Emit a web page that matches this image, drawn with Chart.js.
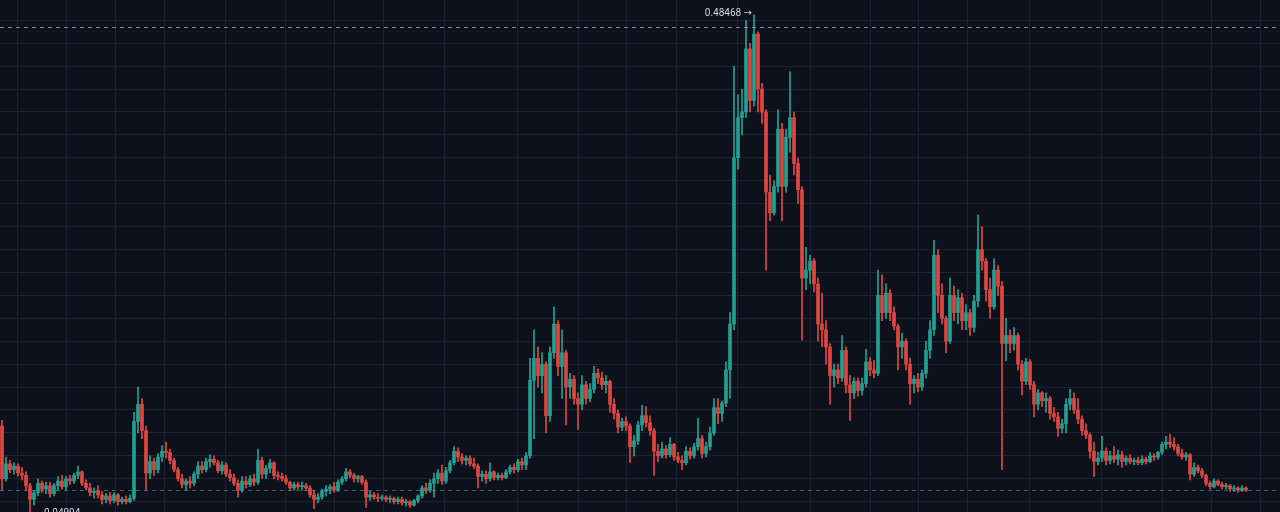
<!DOCTYPE html>
<html>
<head>
<meta charset="utf-8">
<script src="https://cdn.jsdelivr.net/npm/chart.js@4.4.1/dist/chart.umd.min.js"></script>
<style>
    html, body { margin: 0; padding: 0; background: #0d111c; overflow: hidden; }
    #wrap { width: 1280px; height: 512px; }
</style>
</head>
<body>
<div id="wrap"><canvas id="chart" width="1280" height="512"></canvas></div>
<script>
// OHLC, one candle per slot
const opens = [
    0.126,0.080,0.093,0.088,0.091,0.085,0.083,0.074,0.062,0.068,
    0.076,0.071,0.074,0.067,0.074,0.078,0.073,0.080,0.078,0.083,
    0.086,0.076,0.072,0.068,0.069,0.066,0.062,0.065,0.061,0.066,
    0.060,0.062,0.060,0.063,0.130,0.145,0.122,0.085,0.095,0.088,
    0.099,0.104,0.103,0.096,0.088,0.080,0.075,0.078,0.076,0.084,
    0.091,0.088,0.095,0.097,0.094,0.087,0.092,0.084,0.081,0.076,
    0.070,0.078,0.075,0.080,0.077,0.096,0.084,0.089,0.094,0.083,
    0.082,0.080,0.077,0.072,0.075,0.073,0.074,0.072,0.066,0.062,
    0.064,0.069,0.071,0.073,0.070,0.077,0.080,0.086,0.083,0.080,
    0.082,0.077,0.064,0.066,0.064,0.063,0.064,0.062,0.063,0.060,
    0.062,0.059,0.060,0.057,0.061,0.065,0.072,0.070,0.076,0.080,
    0.085,0.078,0.087,0.094,0.104,0.099,0.096,0.098,0.093,0.091,
    0.082,0.084,0.080,0.086,0.081,0.083,0.081,0.086,0.090,0.088,
    0.095,0.092,0.100,0.166,0.185,0.170,0.180,0.135,0.190,0.215,
    0.178,0.190,0.160,0.167,0.150,0.145,0.162,0.150,0.158,0.172,
    0.168,0.162,0.165,0.145,0.137,0.125,0.130,0.126,0.108,0.113,
    0.127,0.135,0.129,0.122,0.104,0.100,0.106,0.101,0.110,0.099,
    0.096,0.094,0.104,0.100,0.108,0.115,0.102,0.108,0.120,0.142,
    0.137,0.146,0.175,0.215,0.360,0.395,0.400,0.455,0.410,0.468,
    0.420,0.400,0.330,0.312,0.335,0.385,0.335,0.378,0.395,0.355,
    0.332,0.255,0.262,0.270,0.250,0.215,0.210,0.195,0.170,0.175,
    0.168,0.192,0.162,0.155,0.165,0.157,0.163,0.182,0.175,0.172,
    0.240,0.225,0.242,0.225,0.213,0.195,0.200,0.180,0.163,0.167,
    0.160,0.172,0.192,0.210,0.275,0.240,0.220,0.200,0.240,0.225,
    0.238,0.218,0.225,0.212,0.235,0.280,0.270,0.245,0.230,0.262,
    0.248,0.198,0.205,0.198,0.205,0.180,0.165,0.182,0.162,0.145,
    0.155,0.148,0.150,0.137,0.134,0.124,0.128,0.145,0.150,0.140,
    0.132,0.122,0.118,0.104,0.095,0.098,0.104,0.096,0.100,0.097,
    0.101,0.095,0.098,0.095,0.096,0.094,0.097,0.095,0.100,0.099,
    0.103,0.110,0.112,0.110,0.108,0.102,0.099,0.101,0.084,0.090,
    0.087,0.083,0.076,0.073,0.078,0.075,0.073,0.074,0.071,0.072,0.070,0.072
]
const highs = [
    0.131,0.099,0.096,0.094,0.093,0.090,0.086,0.076,0.070,0.080,
    0.078,0.077,0.077,0.076,0.082,0.083,0.082,0.083,0.085,0.091,
    0.087,0.079,0.076,0.072,0.074,0.069,0.067,0.068,0.068,0.067,
    0.064,0.065,0.066,0.138,0.160,0.150,0.126,0.100,0.098,0.102,
    0.109,0.112,0.106,0.098,0.090,0.084,0.080,0.082,0.086,0.095,
    0.095,0.098,0.101,0.100,0.096,0.095,0.094,0.088,0.084,0.079,
    0.082,0.082,0.083,0.084,0.106,0.099,0.092,0.097,0.095,0.086,
    0.085,0.083,0.078,0.077,0.077,0.077,0.076,0.074,0.070,0.067,
    0.071,0.074,0.075,0.077,0.079,0.082,0.089,0.088,0.085,0.083,
    0.083,0.079,0.069,0.068,0.067,0.066,0.065,0.065,0.064,0.064,
    0.064,0.062,0.061,0.062,0.066,0.074,0.076,0.079,0.085,0.088,
    0.092,0.090,0.096,0.108,0.107,0.102,0.100,0.100,0.098,0.093,
    0.087,0.087,0.094,0.087,0.085,0.085,0.088,0.092,0.093,0.097,
    0.098,0.103,0.185,0.210,0.195,0.190,0.182,0.195,0.230,0.218,
    0.210,0.192,0.172,0.170,0.155,0.170,0.165,0.163,0.178,0.176,
    0.173,0.170,0.166,0.150,0.140,0.133,0.134,0.128,0.118,0.130,
    0.144,0.143,0.135,0.124,0.110,0.112,0.109,0.116,0.111,0.103,
    0.100,0.108,0.107,0.111,0.133,0.118,0.112,0.125,0.150,0.150,
    0.148,0.182,0.225,0.440,0.415,0.420,0.480,0.460,0.48468,0.470,
    0.425,0.402,0.345,0.340,0.402,0.390,0.385,0.435,0.400,0.360,
    0.335,0.282,0.275,0.272,0.255,0.242,0.218,0.198,0.180,0.180,
    0.205,0.195,0.170,0.168,0.168,0.168,0.193,0.186,0.183,0.262,
    0.258,0.250,0.245,0.230,0.215,0.207,0.202,0.185,0.170,0.172,
    0.175,0.200,0.218,0.288,0.280,0.250,0.222,0.255,0.248,0.245,
    0.242,0.232,0.228,0.240,0.310,0.300,0.272,0.255,0.272,0.266,
    0.252,0.220,0.210,0.212,0.207,0.183,0.185,0.184,0.165,0.158,
    0.156,0.155,0.152,0.142,0.138,0.132,0.150,0.158,0.155,0.150,
    0.135,0.128,0.120,0.112,0.103,0.117,0.107,0.104,0.108,0.105,
    0.104,0.100,0.101,0.098,0.099,0.100,0.099,0.103,0.102,0.104,
    0.112,0.117,0.119,0.116,0.110,0.106,0.103,0.102,0.094,0.092,
    0.089,0.084,0.078,0.080,0.079,0.077,0.076,0.075,0.074,0.073,0.074,0.073
]
const lows = [
    0.070,0.078,0.085,0.084,0.082,0.079,0.070,0.04994,0.057,0.065,
    0.068,0.067,0.064,0.065,0.070,0.071,0.070,0.075,0.076,0.080,
    0.074,0.070,0.065,0.063,0.063,0.058,0.059,0.058,0.059,0.057,
    0.058,0.058,0.059,0.061,0.120,0.115,0.070,0.080,0.083,0.085,
    0.095,0.098,0.093,0.086,0.078,0.072,0.070,0.072,0.074,0.080,
    0.085,0.086,0.090,0.092,0.085,0.084,0.082,0.078,0.074,0.064,
    0.068,0.072,0.073,0.074,0.075,0.080,0.080,0.085,0.080,0.079,
    0.078,0.075,0.070,0.070,0.071,0.070,0.070,0.064,0.054,0.059,
    0.062,0.065,0.067,0.068,0.069,0.075,0.078,0.081,0.077,0.077,
    0.075,0.055,0.061,0.062,0.060,0.061,0.060,0.059,0.058,0.058,
    0.057,0.056,0.055,0.056,0.059,0.063,0.067,0.068,0.064,0.076,
    0.075,0.076,0.085,0.092,0.095,0.093,0.092,0.091,0.089,0.072,
    0.078,0.076,0.078,0.079,0.079,0.079,0.080,0.084,0.085,0.086,
    0.088,0.088,0.098,0.115,0.160,0.155,0.120,0.130,0.185,0.170,
    0.150,0.127,0.150,0.145,0.123,0.140,0.145,0.147,0.155,0.163,
    0.158,0.155,0.138,0.132,0.120,0.122,0.122,0.094,0.100,0.110,
    0.122,0.125,0.118,0.083,0.095,0.098,0.098,0.099,0.096,0.094,
    0.088,0.092,0.097,0.098,0.105,0.098,0.099,0.105,0.118,0.128,
    0.130,0.143,0.150,0.210,0.350,0.380,0.395,0.400,0.405,0.400,
    0.390,0.262,0.305,0.310,0.330,0.305,0.330,0.365,0.345,0.320,
    0.201,0.245,0.250,0.243,0.200,0.195,0.180,0.145,0.160,0.163,
    0.165,0.155,0.131,0.150,0.152,0.153,0.160,0.170,0.168,0.170,
    0.218,0.220,0.218,0.210,0.175,0.185,0.175,0.145,0.155,0.156,
    0.157,0.168,0.185,0.205,0.225,0.215,0.190,0.198,0.218,0.215,
    0.210,0.210,0.205,0.208,0.230,0.262,0.235,0.220,0.228,0.240,
    0.088,0.183,0.190,0.192,0.175,0.153,0.162,0.158,0.134,0.140,
    0.143,0.138,0.132,0.130,0.117,0.120,0.120,0.140,0.137,0.128,
    0.118,0.115,0.098,0.082,0.092,0.095,0.092,0.093,0.094,0.092,
    0.090,0.092,0.093,0.092,0.092,0.092,0.093,0.094,0.096,0.097,
    0.101,0.106,0.107,0.105,0.100,0.097,0.096,0.079,0.082,0.085,
    0.081,0.074,0.071,0.072,0.074,0.071,0.071,0.069,0.069,0.068,0.069,0.069
]
const closes = [
    0.080,0.093,0.088,0.091,0.085,0.083,0.074,0.062,0.068,0.076,
    0.071,0.074,0.067,0.074,0.078,0.073,0.080,0.078,0.083,0.086,
    0.076,0.072,0.068,0.069,0.066,0.062,0.065,0.061,0.066,0.060,
    0.062,0.060,0.063,0.130,0.145,0.122,0.085,0.095,0.088,0.099,
    0.104,0.103,0.096,0.088,0.080,0.075,0.078,0.076,0.084,0.091,
    0.088,0.095,0.097,0.094,0.087,0.092,0.084,0.081,0.076,0.070,
    0.078,0.075,0.080,0.077,0.096,0.084,0.089,0.094,0.083,0.082,
    0.080,0.077,0.072,0.075,0.073,0.074,0.072,0.066,0.062,0.064,
    0.069,0.071,0.073,0.070,0.077,0.080,0.086,0.083,0.080,0.082,
    0.077,0.064,0.066,0.064,0.063,0.064,0.062,0.063,0.060,0.062,
    0.059,0.060,0.057,0.061,0.065,0.072,0.070,0.076,0.080,0.085,
    0.078,0.087,0.094,0.104,0.099,0.096,0.098,0.093,0.091,0.082,
    0.084,0.080,0.086,0.081,0.083,0.081,0.086,0.090,0.088,0.095,
    0.092,0.100,0.166,0.185,0.170,0.180,0.135,0.190,0.215,0.178,
    0.190,0.160,0.167,0.150,0.145,0.162,0.150,0.158,0.172,0.168,
    0.162,0.165,0.145,0.137,0.125,0.130,0.126,0.108,0.113,0.127,
    0.135,0.129,0.122,0.104,0.100,0.106,0.101,0.110,0.099,0.096,
    0.094,0.104,0.100,0.108,0.115,0.102,0.108,0.120,0.142,0.137,
    0.146,0.175,0.215,0.360,0.395,0.400,0.455,0.410,0.468,0.420,
    0.400,0.330,0.312,0.335,0.385,0.335,0.378,0.395,0.355,0.332,
    0.255,0.262,0.270,0.250,0.215,0.210,0.195,0.170,0.175,0.168,
    0.192,0.162,0.155,0.165,0.157,0.163,0.182,0.175,0.172,0.240,
    0.225,0.242,0.225,0.213,0.195,0.200,0.180,0.163,0.167,0.160,
    0.172,0.192,0.210,0.275,0.240,0.220,0.200,0.240,0.225,0.238,
    0.218,0.225,0.212,0.235,0.280,0.270,0.245,0.230,0.262,0.248,
    0.198,0.205,0.198,0.205,0.180,0.165,0.182,0.162,0.145,0.155,
    0.148,0.150,0.137,0.134,0.124,0.128,0.145,0.150,0.140,0.132,
    0.122,0.118,0.104,0.095,0.098,0.104,0.096,0.100,0.097,0.101,
    0.095,0.098,0.095,0.096,0.094,0.097,0.095,0.100,0.099,0.103,
    0.110,0.112,0.110,0.108,0.102,0.099,0.101,0.084,0.090,0.087,
    0.083,0.076,0.073,0.078,0.075,0.073,0.074,0.071,0.072,0.070,0.072,0.070
]

// time grid ticks (in candle slots) and price grid ticks
const timeTicks = [10, 22.25, 34.58, 46.83, 64.83, 77, 89.17, 101.33, 119.83, 137.92, 150.08,
    162.33, 174.67, 193.17, 211, 223.08, 235.33, 247.58, 266, 283.92, 296.17, 308.42]
const priceTicks = [0.06, 0.08, 0.10, 0.12, 0.14, 0.16, 0.18, 0.20, 0.22, 0.24, 0.26,
    0.28, 0.30, 0.32, 0.34, 0.36, 0.38, 0.40, 0.42, 0.44, 0.46, 0.48]
const markLine = 0.4744
const SLOTS = 320
const PRICE_MIN = 0.0510
const PRICE_MAX = 0.4977

const UP = '#22a193'
const DOWN = '#e0473f'
const BG = '#0d111c'
const GRID = '#1c2030'

const isUp = i => closes[i] >= opens[i]
const candleColor = c => isUp(c.dataIndex) ? UP : DOWN

const bodies = opens.map((o, i) => ({ x: i, y: [o, closes[i]] }))
const wicks = lows.map((l, i) => ({ x: i, y: [l, highs[i]] }))

// фон, пунктирные уровни и подписи экстремумов
const overlay = {
    id: 'overlay',
    beforeDraw(chart) {
        const ctx = chart.ctx
        ctx.save()
        ctx.fillStyle = BG
        ctx.fillRect(0, 0, chart.width, chart.height)
        ctx.restore()
    },
    afterDatasetsDraw(chart) {
        const { ctx, chartArea, scales: { x, y } } = chart
        const dashed = (value, color) => {
            const py = Math.round(y.getPixelForValue(value)) + 0.5
            ctx.save()
            ctx.strokeStyle = color
            ctx.lineWidth = 1
            ctx.setLineDash([4, 4])
            ctx.beginPath()
            ctx.moveTo(chartArea.left, py)
            ctx.lineTo(chartArea.right, py)
            ctx.stroke()
            ctx.restore()
        }
        dashed(markLine, 'rgba(149,152,161,0.85)')
        dashed(closes[closes.length - 1], 'rgba(38,166,154,0.6)')

        const hi = Math.max(...highs)
        const lo = Math.min(...lows)
        const hiIdx = highs.indexOf(hi)
        const loIdx = lows.indexOf(lo)
        ctx.save()
        ctx.font = '10px Roboto, "DejaVu Sans", sans-serif'
        ctx.fillStyle = '#d1d4dc'
        ctx.textBaseline = 'middle'
        ctx.textAlign = 'right'
        ctx.fillText(hi.toFixed(5) + ' \u2192', x.getPixelForValue(hiIdx) - 2, y.getPixelForValue(hi) - 1)
        ctx.textAlign = 'left'
        ctx.fillText(lo.toFixed(5), x.getPixelForValue(loIdx) + 14, y.getPixelForValue(lo))
        ctx.restore()
    }
}

new Chart(document.getElementById('chart'), {
    type: 'bar',
    data: {
        datasets: [
            {
                label: 'body',
                data: bodies,
                backgroundColor: candleColor,
                borderWidth: 0,
                barThickness: 3,
                minBarLength: 1,
                grouped: false
            },
            {
                label: 'wick',
                data: wicks,
                backgroundColor: candleColor,
                borderWidth: 0,
                barThickness: 1,
                minBarLength: 1,
                grouped: false
            }
        ]
    },
    options: {
        responsive: false,
        animation: false,
        events: [],
        layout: { padding: 0 },
        plugins: { legend: { display: false }, tooltip: { enabled: false } },
        scales: {
            x: {
                type: 'linear',
                min: -0.5,
                max: SLOTS - 0.5,
                offset: false,
                afterBuildTicks: s => { s.ticks = timeTicks.map(v => ({ value: v })) },
                afterFit: s => { s.height = 0 },
                grid: { color: GRID, drawTicks: false },
                border: { display: false },
                ticks: { display: false }
            },
            y: {
                min: PRICE_MIN,
                max: PRICE_MAX,
                afterBuildTicks: s => { s.ticks = priceTicks.map(v => ({ value: v })) },
                afterFit: s => { s.width = 0 },
                grid: { color: GRID, drawTicks: false },
                border: { display: false },
                ticks: { display: false }
            }
        }
    },
    plugins: [overlay]
})
</script>
</body>
</html>
